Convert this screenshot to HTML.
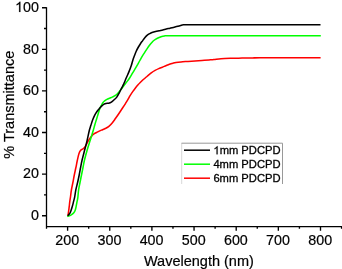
<!DOCTYPE html>
<html><head><meta charset="utf-8"><style>
html,body{margin:0;padding:0;background:#fff;}
body{width:342px;height:269px;overflow:hidden;}
svg{display:block;}
svg{will-change:transform;}
.t14{font-family:"Liberation Sans",sans-serif;font-size:14.3px;fill:#000;stroke:#000;stroke-width:0.2px;}
.t145{font-family:"Liberation Sans",sans-serif;font-size:14.5px;fill:#000;stroke:#000;stroke-width:0.2px;}
.t11{font-family:"Liberation Sans",sans-serif;font-size:11.2px;fill:#000;stroke:#000;stroke-width:0.3px;}
</style></head><body>
<svg width="342" height="269" viewBox="0 0 342 269">
<path d="M46.5,7.2 V228.8 M45.9,226.6 H342" stroke="#000" stroke-width="1.3" fill="none"/>
<path d="M42.00,215.70 H46.5 M44.00,194.90 H46.5 M42.00,174.10 H46.5 M44.00,153.30 H46.5 M42.00,132.50 H46.5 M44.00,111.70 H46.5 M42.00,90.90 H46.5 M44.00,70.10 H46.5 M42.00,49.30 H46.5 M44.00,28.50 H46.5 M42.00,7.70 H46.5 M67.60,226.6 V230.80 M88.67,226.6 V228.80 M109.75,226.6 V230.80 M130.82,226.6 V228.80 M151.90,226.6 V230.80 M172.97,226.6 V228.80 M194.05,226.6 V230.80 M215.12,226.6 V228.80 M236.20,226.6 V230.80 M257.27,226.6 V228.80 M278.35,226.6 V230.80 M299.42,226.6 V228.80 M320.50,226.6 V230.80 M341.57,226.6 V228.80" stroke="#000" stroke-width="1.35" fill="none"/>
<text x="38.9" y="219.90" text-anchor="end" class="t14">0</text>
<text x="38.9" y="178.30" text-anchor="end" class="t14">20</text>
<text x="38.9" y="136.70" text-anchor="end" class="t14">40</text>
<text x="38.9" y="95.10" text-anchor="end" class="t14">60</text>
<text x="38.9" y="53.50" text-anchor="end" class="t14">80</text>
<text x="38.9" y="11.90" text-anchor="end" class="t14"><tspan style="fill:none;stroke:none">1</tspan>00</text>
<path d="M20.37,11.90 L19.11,11.90 L19.11,3.89 L18.67,4.29 L18.11,4.64 L17.35,5.02 L16.60,5.36 L16.60,4.15 L17.35,3.77 L18.11,3.28 L18.81,2.68 L19.30,2.12 L19.61,1.66 L20.37,1.66 Z" fill="#000" stroke="#000" stroke-width="0.2"/>
<text x="67.30" y="244.8" text-anchor="middle" class="t14">200</text>
<text x="109.45" y="244.8" text-anchor="middle" class="t14">300</text>
<text x="151.60" y="244.8" text-anchor="middle" class="t14">400</text>
<text x="193.75" y="244.8" text-anchor="middle" class="t14">500</text>
<text x="235.90" y="244.8" text-anchor="middle" class="t14">600</text>
<text x="278.05" y="244.8" text-anchor="middle" class="t14">700</text>
<text x="320.20" y="244.8" text-anchor="middle" class="t14">800</text>
<text x="198.9" y="265.7" text-anchor="middle" class="t145">Wavelength (nm)</text>
<text transform="translate(13.5,104.7) rotate(-90)" text-anchor="middle" class="t145">% Transmittance</text>
<path d="M181.7,184 V143.2" stroke="#d8d8d8" stroke-width="1" fill="none"/>
<path d="M181.5,143.2 H282.5 V184" stroke="#999" stroke-width="1" fill="none"/>
<path d="M184,150.2 H210" stroke="#000" stroke-width="1.5" fill="none"/>
<text x="213.4" y="154.30" class="t11"><tspan style="fill:none;stroke:none">1</tspan>mm PDCPD</text>
<path d="M217.57,154.30 L216.59,154.30 L216.59,148.03 L216.24,148.34 L215.81,148.61 L215.20,148.91 L214.62,149.18 L214.62,148.23 L215.20,147.93 L215.81,147.55 L216.35,147.08 L216.74,146.64 L216.98,146.28 L217.57,146.28 Z" fill="#000" stroke="#000" stroke-width="0.3"/>
<path d="M184,164.2 H210" stroke="#00ff00" stroke-width="1.5" fill="none"/>
<text x="213.4" y="168.30" class="t11">4mm PDCPD</text>
<path d="M184,178.2 H210" stroke="#ff0000" stroke-width="1.5" fill="none"/>
<text x="213.4" y="182.30" class="t11">6mm PDCPD</text>
<path d="M67.70,215.80 C67.75,215.70 67.87,215.83 68.00,215.20 C68.13,214.57 68.30,213.42 68.50,212.00 C68.70,210.58 68.98,208.47 69.20,206.70 C69.42,204.93 69.58,203.03 69.80,201.40 C70.02,199.77 70.23,198.80 70.50,196.90 C70.77,195.00 71.00,192.40 71.40,190.00 C71.80,187.60 72.42,185.00 72.90,182.50 C73.38,180.00 73.80,177.50 74.30,175.00 C74.80,172.50 75.38,170.00 75.90,167.50 C76.42,165.00 76.88,162.32 77.40,160.00 C77.92,157.68 78.45,155.22 79.00,153.60 C79.55,151.98 80.13,151.03 80.70,150.30 C81.27,149.57 81.75,149.67 82.40,149.20 C83.05,148.73 83.95,148.25 84.60,147.50 C85.25,146.75 85.73,145.72 86.30,144.70 C86.87,143.68 87.35,142.52 88.00,141.40 C88.65,140.28 89.47,139.03 90.20,138.00 C90.93,136.97 91.77,135.90 92.40,135.20 C93.03,134.50 93.12,134.35 94.00,133.80 C94.88,133.25 96.47,132.52 97.70,131.90 C98.93,131.28 100.15,130.67 101.40,130.10 C102.65,129.53 103.95,129.12 105.20,128.50 C106.45,127.88 107.70,127.35 108.90,126.40 C110.10,125.45 111.28,124.15 112.40,122.80 C113.52,121.45 114.48,119.90 115.60,118.30 C116.72,116.70 117.92,114.95 119.10,113.20 C120.28,111.45 121.62,109.45 122.70,107.80 C123.78,106.15 124.77,104.62 125.60,103.30 C126.43,101.98 126.92,101.22 127.70,99.90 C128.47,98.58 129.38,96.82 130.25,95.40 C131.12,93.98 132.01,92.68 132.90,91.40 C133.79,90.12 134.70,88.85 135.60,87.70 C136.50,86.55 137.40,85.48 138.30,84.50 C139.20,83.52 140.12,82.67 141.00,81.80 C141.88,80.93 142.72,80.10 143.60,79.30 C144.48,78.50 145.48,77.70 146.30,77.00 C147.12,76.30 147.62,75.83 148.50,75.10 C149.38,74.37 150.50,73.38 151.60,72.60 C152.70,71.82 153.92,71.07 155.10,70.40 C156.28,69.73 157.50,69.13 158.70,68.60 C159.90,68.07 161.10,67.68 162.30,67.20 C163.50,66.72 164.72,66.18 165.90,65.70 C167.08,65.22 168.22,64.72 169.40,64.30 C170.58,63.88 171.90,63.50 173.00,63.20 C174.10,62.90 174.67,62.72 176.00,62.50 C177.33,62.28 179.00,62.08 181.00,61.90 C183.00,61.72 185.67,61.57 188.00,61.40 C190.33,61.23 192.67,61.07 195.00,60.90 C197.33,60.73 199.67,60.57 202.00,60.40 C204.33,60.23 207.00,60.05 209.00,59.90 C211.00,59.75 212.00,59.70 214.00,59.50 C216.00,59.30 218.07,58.90 221.00,58.70 C223.93,58.50 228.08,58.40 231.60,58.30 C235.12,58.20 238.60,58.17 242.10,58.10 C245.60,58.03 249.62,57.95 252.60,57.90 C255.58,57.85 256.75,57.82 260.00,57.80 C263.25,57.78 268.08,57.79 272.12,57.78 C276.16,57.77 280.20,57.77 284.24,57.76 C288.28,57.75 292.32,57.75 296.36,57.74 C300.40,57.73 304.44,57.73 308.48,57.72 C312.52,57.71 318.58,57.70 320.60,57.70" stroke="#ff0000" stroke-width="1.55" fill="none" stroke-linejoin="round" stroke-linecap="butt"/>
<path d="M67.20,216.40 C67.57,216.32 68.67,216.18 69.40,215.90 C70.13,215.62 70.87,215.22 71.60,214.70 C72.33,214.18 73.20,213.53 73.80,212.80 C74.40,212.07 74.82,211.32 75.20,210.30 C75.58,209.28 75.82,208.03 76.10,206.70 C76.38,205.37 76.62,203.78 76.90,202.30 C77.18,200.82 77.52,199.85 77.80,197.80 C78.08,195.75 78.23,192.55 78.60,190.00 C78.97,187.45 79.52,185.00 80.00,182.50 C80.48,180.00 81.00,177.50 81.50,175.00 C82.00,172.50 82.50,170.00 83.00,167.50 C83.50,165.00 83.77,163.05 84.50,160.00 C85.23,156.95 86.45,152.48 87.40,149.20 C88.35,145.92 89.27,143.28 90.20,140.30 C91.13,137.32 92.22,133.93 93.00,131.30 C93.78,128.67 94.30,126.55 94.90,124.50 C95.50,122.45 96.03,120.85 96.60,119.00 C97.17,117.15 97.75,115.17 98.30,113.40 C98.85,111.63 99.35,109.80 99.90,108.40 C100.45,107.00 101.08,105.98 101.60,105.00 C102.12,104.02 102.55,103.13 103.00,102.50 C103.45,101.87 103.65,101.72 104.30,101.20 C104.95,100.68 106.02,99.90 106.90,99.40 C107.78,98.90 108.70,98.58 109.60,98.20 C110.50,97.82 111.47,97.48 112.30,97.10 C113.13,96.72 113.88,96.32 114.60,95.90 C115.32,95.48 115.93,95.15 116.60,94.60 C117.27,94.05 117.88,93.45 118.60,92.60 C119.32,91.75 120.10,90.55 120.90,89.50 C121.70,88.45 122.52,87.45 123.40,86.30 C124.28,85.15 125.17,83.98 126.20,82.60 C127.23,81.22 128.55,79.57 129.60,78.00 C130.65,76.43 131.57,74.75 132.50,73.20 C133.43,71.65 134.23,70.33 135.20,68.70 C136.17,67.07 137.28,65.22 138.30,63.40 C139.32,61.58 140.33,59.48 141.30,57.80 C142.27,56.12 143.15,54.78 144.10,53.30 C145.05,51.82 146.03,50.32 147.00,48.90 C147.97,47.48 149.17,45.78 149.90,44.80 C150.63,43.82 150.75,43.72 151.40,43.00 C152.05,42.28 152.80,41.30 153.80,40.50 C154.80,39.70 156.20,38.83 157.40,38.20 C158.60,37.57 159.82,37.08 161.00,36.70 C162.18,36.32 163.33,36.05 164.50,35.90 C165.67,35.75 163.75,35.82 168.00,35.80 C172.25,35.78 184.15,35.80 190.00,35.80 C195.85,35.80 198.72,35.79 203.08,35.79 C207.44,35.79 211.80,35.78 216.16,35.78 C220.52,35.78 224.88,35.77 229.24,35.77 C233.60,35.77 237.96,35.76 242.32,35.76 C246.68,35.76 251.04,35.75 255.40,35.75 C259.76,35.75 264.12,35.74 268.48,35.74 C272.84,35.74 277.20,35.73 281.56,35.73 C285.92,35.73 290.28,35.72 294.64,35.72 C299.00,35.72 303.36,35.71 307.72,35.71 C312.08,35.71 318.62,35.70 320.80,35.70" stroke="#00ff00" stroke-width="1.55" fill="none" stroke-linejoin="round" stroke-linecap="butt"/>
<path d="M67.70,215.80 C68.05,215.40 69.23,214.32 69.80,213.40 C70.37,212.48 70.65,211.57 71.10,210.30 C71.55,209.03 72.08,207.28 72.50,205.80 C72.92,204.32 73.23,202.88 73.60,201.40 C73.97,199.92 74.33,198.80 74.70,196.90 C75.07,195.00 75.32,192.40 75.80,190.00 C76.28,187.60 77.03,185.00 77.60,182.50 C78.17,180.00 78.70,177.50 79.20,175.00 C79.70,172.50 80.12,170.00 80.60,167.50 C81.08,165.00 81.43,162.87 82.10,160.00 C82.77,157.13 83.80,153.40 84.60,150.30 C85.40,147.20 86.12,144.70 86.90,141.40 C87.68,138.10 88.65,133.13 89.30,130.50 C89.95,127.87 90.25,127.33 90.80,125.60 C91.35,123.87 91.98,121.77 92.60,120.10 C93.22,118.43 93.80,117.00 94.50,115.60 C95.20,114.20 96.03,112.82 96.80,111.70 C97.57,110.58 98.30,109.83 99.10,108.90 C99.90,107.97 100.77,106.90 101.60,106.10 C102.43,105.30 103.37,104.55 104.10,104.10 C104.83,103.65 105.23,103.55 106.00,103.40 C106.77,103.25 107.80,103.42 108.70,103.20 C109.60,102.98 110.50,102.67 111.40,102.10 C112.30,101.53 113.20,100.63 114.10,99.80 C115.00,98.97 115.93,98.27 116.80,97.10 C117.67,95.93 118.48,94.33 119.30,92.80 C120.12,91.27 120.95,89.40 121.70,87.90 C122.45,86.40 123.05,85.45 123.80,83.80 C124.55,82.15 125.35,79.98 126.20,78.00 C127.05,76.02 128.05,73.98 128.90,71.90 C129.75,69.82 130.63,67.50 131.30,65.50 C131.97,63.50 132.38,61.52 132.90,59.90 C133.42,58.28 133.87,57.20 134.40,55.80 C134.93,54.40 135.43,52.97 136.10,51.50 C136.77,50.03 137.65,48.33 138.40,47.00 C139.15,45.67 139.88,44.57 140.60,43.50 C141.32,42.43 142.03,41.53 142.70,40.60 C143.37,39.67 143.83,38.80 144.60,37.90 C145.37,37.00 146.43,35.92 147.30,35.20 C148.17,34.48 149.02,34.03 149.80,33.60 C150.58,33.17 151.03,32.95 152.00,32.60 C152.97,32.25 154.40,31.82 155.60,31.50 C156.80,31.18 158.00,30.97 159.20,30.70 C160.40,30.43 161.62,30.18 162.80,29.90 C163.98,29.62 165.10,29.28 166.30,29.00 C167.50,28.72 168.82,28.47 170.00,28.20 C171.18,27.93 171.87,27.78 173.40,27.40 C174.93,27.02 177.52,26.33 179.20,25.90 C180.88,25.47 181.70,24.98 183.50,24.80 C185.30,24.62 186.74,24.80 190.00,24.80 C193.26,24.80 198.70,24.80 203.05,24.80 C207.40,24.80 211.75,24.80 216.10,24.80 C220.45,24.80 224.80,24.80 229.15,24.80 C233.50,24.80 237.85,24.80 242.20,24.80 C246.55,24.80 250.90,24.80 255.25,24.80 C259.60,24.80 263.95,24.80 268.30,24.80 C272.65,24.80 277.00,24.80 281.35,24.80 C285.70,24.80 290.05,24.80 294.40,24.80 C298.75,24.80 303.10,24.80 307.45,24.80 C311.80,24.80 318.32,24.80 320.50,24.80" stroke="#000" stroke-width="1.55" fill="none" stroke-linejoin="round" stroke-linecap="butt"/>
</svg>
</body></html>
